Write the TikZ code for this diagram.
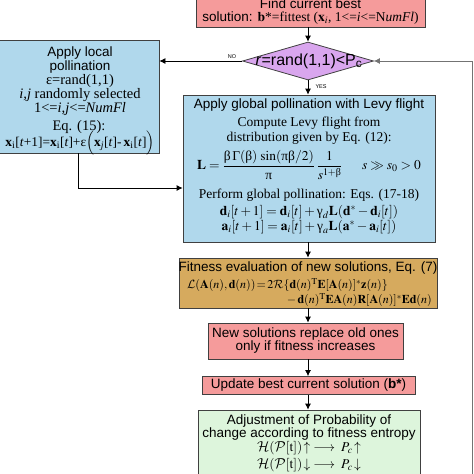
\documentclass[tikz,border=0pt]{standalone}
\usepackage{amsmath}
\usepackage{mathptmx}
\DeclareMathAlphabet{\mathcal}{OMS}{cmsy}{m}{n}
\usepackage[no-math]{fontspec}
\setmainfont{Liberation Sans}
\newfontfamily\tms{Liberation Serif}
\usetikzlibrary{arrows.meta,shapes.geometric}
\definecolor{redc}{HTML}{F59B9B}
\definecolor{purc}{HTML}{D9A6EE}
\definecolor{bluc}{HTML}{B0D8EC}
\definecolor{tanc}{HTML}{D6AA5E}
\definecolor{grnc}{HTML}{DDF5DC}
\newcommand{\ugr}[1]{\text{\tms #1}}
\tikzset{
  boxst/.style={draw=black!75, line width=0.8pt, inner sep=0pt, rectangle},
  txt/.style={inner sep=0pt, align=center, font=\fontsize{13.5}{13}\selectfont},
  stxt/.style={inner sep=0pt, align=center, font=\tms\fontsize{13.5}{15}\selectfont},
  ltxt/.style={inner sep=0pt, align=center, font=\tms\fontsize{14.5}{12.5}\selectfont},
  arr/.style={line width=0.8pt, -{Latex[length=6pt,width=6pt]}},
  lab/.style={inner sep=0pt, font=\fontsize{5.5}{6}\selectfont},
}
\begin{document}
\begin{tikzpicture}[x=1pt,y=-1pt]
\useasboundingbox (0,0) rectangle (474,474);
% boxes
\node[boxst, fill=redc, minimum width=229pt, minimum height=31pt] (top) at (310.5,11.5) {};
\node[diamond, aspect=3.45, draw=black!75, line width=0.8pt, fill=purc, inner sep=0pt, minimum width=131pt, minimum height=38pt] (dia) at (308,61) {};
\node[boxst, fill=bluc, minimum width=161pt, minimum height=113pt] (loc) at (78.5,96.5) {};
\node[boxst, fill=bluc, minimum width=252pt, minimum height=147pt] (glob) at (309,168.5) {};
\node[boxst, fill=tanc, minimum width=258pt, minimum height=50pt] (fit) at (308,283) {};
\node[boxst, fill=redc, minimum width=195pt, minimum height=36pt] (rep) at (305.5,341) {};
\node[boxst, fill=redc, minimum width=213pt, minimum height=18pt] (upd) at (308.5,385.5) {};
\node[boxst, fill=grnc, minimum width=222pt, minimum height=80pt] (grn) at (309,450) {};
% texts
\node[txt] (ttop) at (310.5,11.5) {Find current best\\solution: {\tms$\mathbf{b}$*=fittest ($\mathbf{x}_i$, 1<=\textit{i}<=N\textit{umFl})}};
\node[txt, font=\fontsize{16}{16}\selectfont] (tdia) at (309,61) {\textit{r}=rand(1,1)<P\textsubscript{c}};
\node[txt, font=\fontsize{13.5}{12}\selectfont] (tloc) at (80,60) {Apply local\\pollination};
\node[ltxt] (tlocb) at (80,95) {ε=rand(1,1)\\\textit{i,j} randomly selected\\1<=\textit{i,j}<=\textit{NumFl}};
\node[ltxt] (tloc2) at (79,127.5) {Eq. (15):};
\node[ltxt, font=\tms\fontsize{13.4}{13}\selectfont] (tloc3) at (80,143) {\textbf{x}\textsubscript{i}[\textit{t}+1]=\textbf{x}\textsubscript{i}[\textit{t}]+ε$\Big($\textbf{x}\textsubscript{\textit{j}}[\textit{t}]-\,\textbf{x}\textsubscript{i}[\textit{t}]$\Big)$};
\node[txt] (g1) at (309,105) {Apply global pollination with Levy flight};
\node[stxt] (g2) at (309,130.5) {Compute Levy flight from\\distribution given by Eq. (12):};
\node[txt] (g3) at (309,165) {$\mathbf{L}=\dfrac{\ugr{β}\,\ugr{Γ}(\ugr{β})\,\sin(\ugr{πβ}/2)}{\ugr{π}}\,\dfrac{1}{s^{1+\ugr{β}}}\quad\;\; s\gg s_0>0$};
\node[stxt] (g4) at (309,195) {Perform global pollination: Eqs. (17-18)};
\node[txt] (g5) at (309,212) {$\mathbf{d}_i[t+1]=\mathbf{d}_i[t]+\ugr{γ}_d\mathbf{L}(\mathbf{d}^*-\mathbf{d}_i[t])$};
\node[txt] (g6) at (309,227) {$\mathbf{a}_i[t+1]=\mathbf{a}_i[t]+\ugr{γ}_a\mathbf{L}(\mathbf{a}^*-\mathbf{a}_i[t])$};
\node[txt] (f1) at (308,268) {Fitness evaluation of new solutions, Eq. (7)};
\node[txt, anchor=west, font=\fontsize{12}{13}\selectfont] (f2) at (187,285) {$\mathcal{L}(\mathbf{A}(n),\mathbf{d}(n))\,{=}\,2\mathcal{R}\{\mathbf{d}(n)^{\mathrm{T}}\mathbf{E}[\mathbf{A}(n)]^{*}\mathbf{z}(n)\}$};
\node[txt, anchor=east, font=\fontsize{12}{13}\selectfont] (f3) at (432,300) {$-\,\mathbf{d}(n)^{\mathrm{T}}\mathbf{E}\mathbf{A}(n)\mathbf{R}[\mathbf{A}(n)]^{*}\mathbf{E}\mathbf{d}(n)$};
\node[txt] (trep) at (305.5,341) {New solutions replace old ones\\only if fitness increases};
\node[txt] (tupd) at (308.5,385.5) {Update best current solution (\textbf{b*})};
\node[txt] (tg1) at (309,427.5) {Adjustment of Probability of\\change according to fitness entropy};
\node[txt] (tg2) at (309,448) {$\mathcal{H}(\mathcal{P}[\mathrm{t}])\!\uparrow\;\longrightarrow\;P_c\!\uparrow$};
\node[txt] (tg3) at (309,465) {$\mathcal{H}(\mathcal{P}[\mathrm{t}])\!\downarrow\;\longrightarrow\;P_c\!\downarrow$};
% labels
\node[lab] (no) at (232,57) {NO};
\node[lab] (yes) at (321,86.5) {YES};
% connectors
\coordinate (c1) at (79,188);
\coordinate (fb) at (472,480);
\draw[arr] (dia.north |- top.south) -- (dia.north);
\draw[arr] (dia.south) -- (dia.south |- glob.north);
\draw[arr] (dia.west) -- (loc.east |- dia.west);
\draw[arr] (loc.south) |- (glob.west |- c1);
\draw[arr] (dia.south |- glob.south) -- (dia.south |- fit.north);
\draw[arr] (dia.south |- fit.south) -- (dia.south |- rep.north);
\draw[arr] (dia.south |- rep.south) -- (dia.south |- upd.north);
\draw[arr] (dia.south |- upd.south) -- (dia.south |- grn.north);
\draw[arr, draw=black!55] (fb) |- (dia.east);
\end{tikzpicture}
\end{document}
